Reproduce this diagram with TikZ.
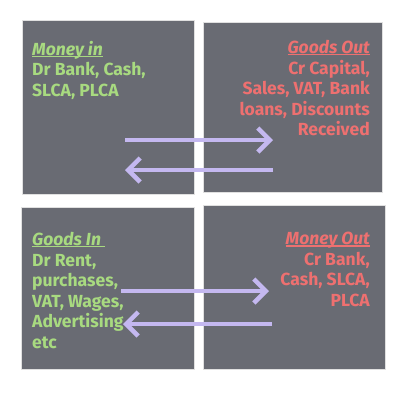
\documentclass[tikz,border=0pt]{standalone}
\usepackage{fontspec}
\setmainfont{Fira Sans}
\usetikzlibrary{arrows.meta}
\definecolor{boxgray}{HTML}{696B73}
\definecolor{ingreen}{HTML}{A8DA80}
\definecolor{outred}{HTML}{EE7070}
\definecolor{flowlav}{HTML}{C4B8F0}
\tikzset{
  quad/.style={fill=boxgray, draw=black!12, line width=0.6bp},
  entrytext/.style={inner sep=0pt, font=\fontsize{17.6}{20.6}\selectfont\bfseries},
  debit/.style={entrytext, text=ingreen, anchor=north west, align=left},
  credit/.style={entrytext, text=outred, anchor=north east, align=right},
  flow/.style={draw=flowlav, line width=4.5bp, -{Straight Barb[length=12bp,width=24bp]}}
}
\newcommand{\heading}[1]{\setbox0\hbox{\itshape #1}\rlap{\rule[-2bp]{\wd0}{1.3bp}}\box0}
\begin{document}
\begin{tikzpicture}[x=1bp, y=-1bp]
\useasboundingbox (0,0) rectangle (400,400);

% the four quarters
\filldraw[quad] (22,20) rectangle (194,194);
\filldraw[quad] (203,22) rectangle (382,192);
\filldraw[quad] (21,207) rectangle (194,369);
\filldraw[quad] (203,205) rectangle (385,369);

% texts
\node[debit]  (moneyin)   at (32,41)  {\heading{Money in}\\Dr Bank, Cash,\\SLCA, PLCA};
\node[credit] (goodsout)  at (370,40) {\heading{Goods Out}\\Cr Capital,\\Sales, VAT, Bank\\loans, Discounts\\Received};
\node[debit]  (goodsin)   at (32,232) {\heading{Goods In\ }\\Dr Rent,\\purchases,\\VAT, Wages,\\Advertising\\etc};
\node[credit] (moneyout)  at (370,232) {\heading{Money Out}\\Cr Bank,\\Cash, SLCA,\\PLCA};

% arrows
\coordinate (topL1) at (125,140);  \coordinate (topR1) at (273,140);
\coordinate (topL2) at (125,170);  \coordinate (topR2) at (273,170);
\coordinate (botL1) at (121,291);  \coordinate (botR1) at (269,291);
\coordinate (botL2) at (123,324);  \coordinate (botR2) at (272,324);
\draw[flow] (topL1) -- (topR1);
\draw[flow] (topR2) -- (topL2);
\draw[flow] (botL1) -- (botR1);
\draw[flow] (botR2) -- (botL2);

\end{tikzpicture}
\end{document}
